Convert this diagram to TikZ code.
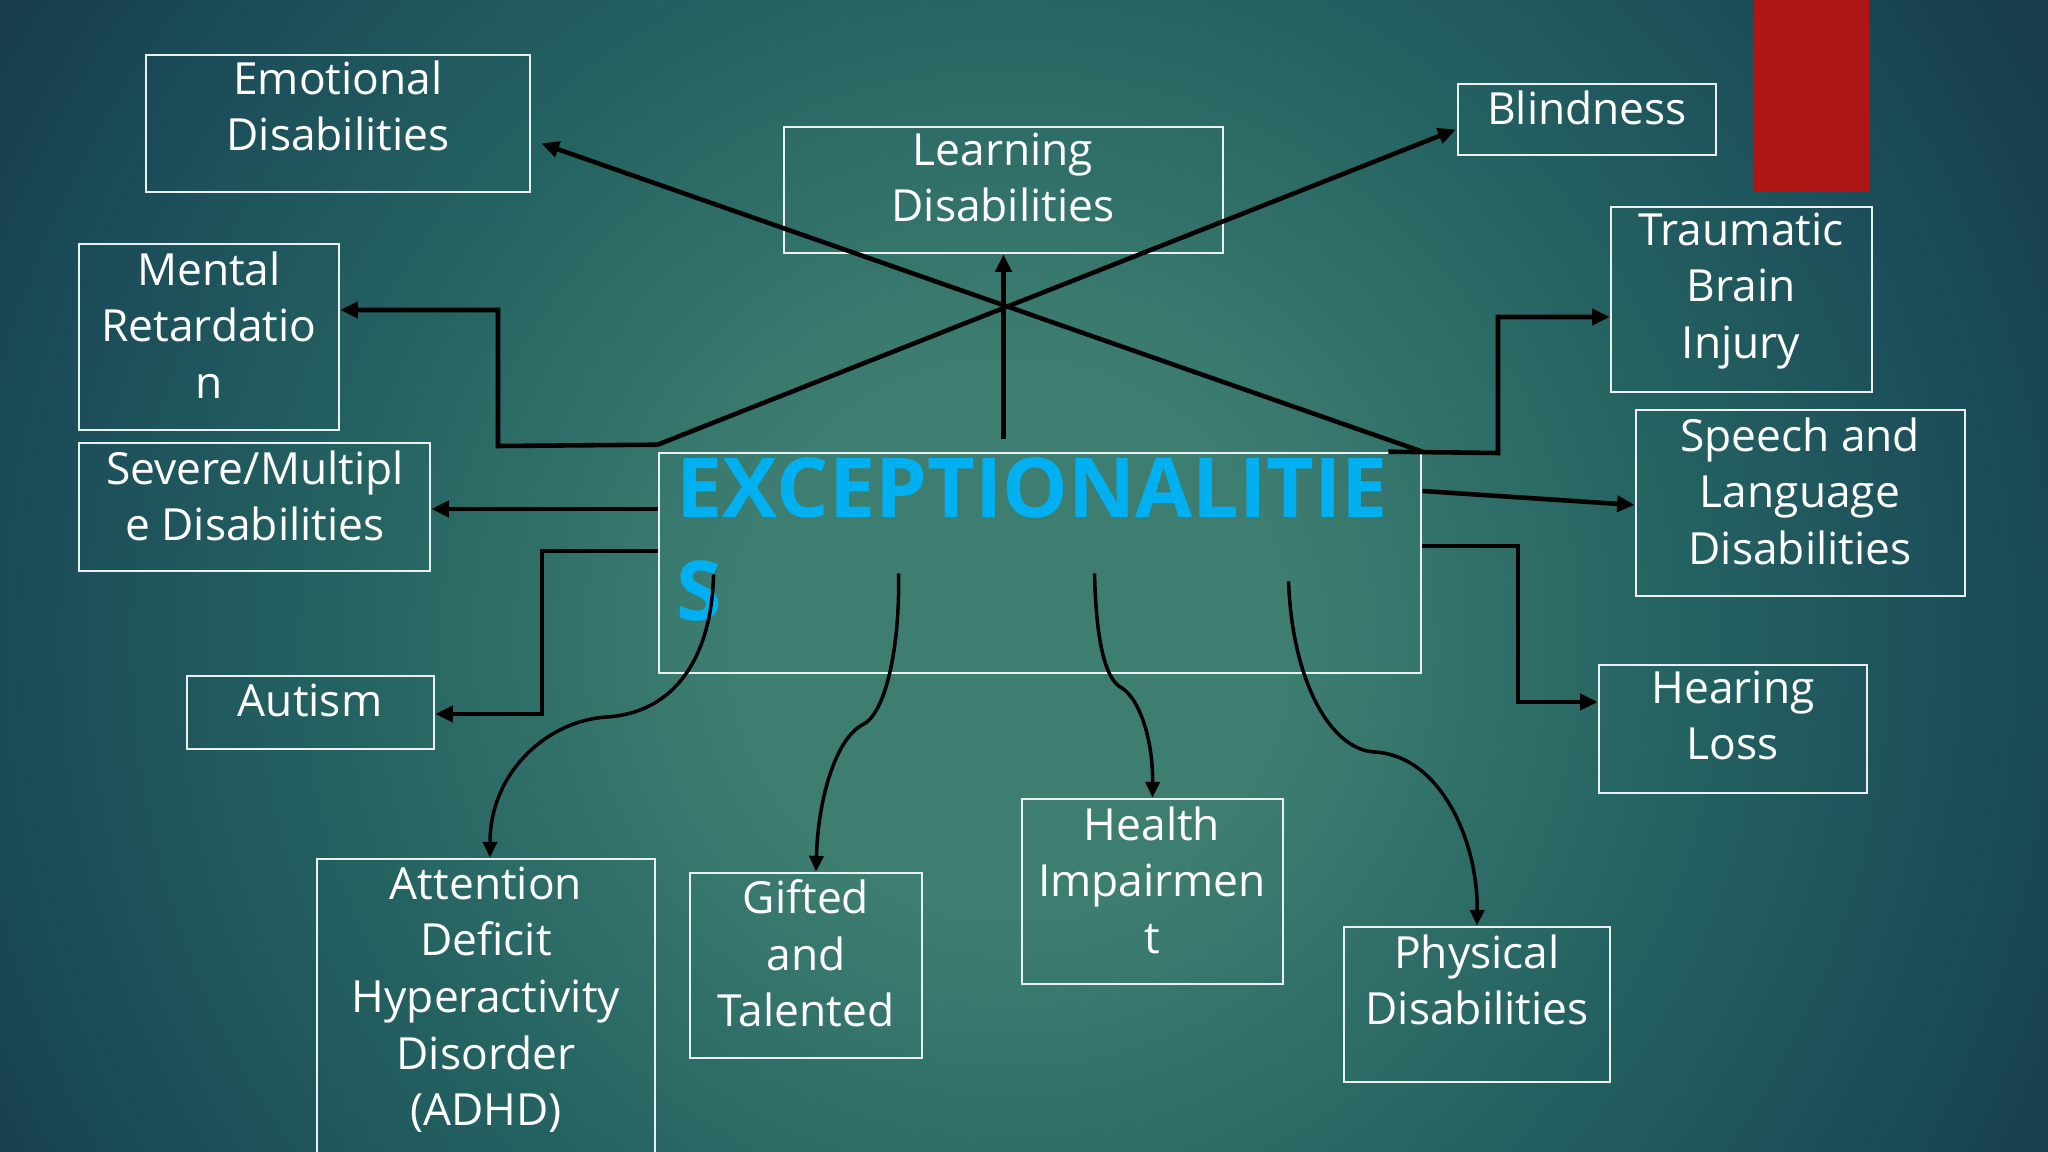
\documentclass[tikz,border=0pt]{standalone}
\usepackage{fontspec}
\setmainfont{Open Sans}
\usetikzlibrary{arrows.meta,calc}
\definecolor{bgC}{RGB}{62,126,113}
\definecolor{bgA}{RGB}{36,98,97}
\definecolor{bgB}{RGB}{26,73,88}
\definecolor{bgE}{RGB}{23,61,77}
\definecolor{titleblue}{RGB}{0,176,240}
\definecolor{boxline}{RGB}{232,240,240}
\definecolor{redbar}{RGB}{174,21,21}
\pgfdeclareradialshading{bgshade}{\pgfpoint{0bp}{0bp}}{color(0bp)=(bgC); color(5.5bp)=(bgC); color(13.5bp)=(bgA); color(20.5bp)=(bgB); color(23.5bp)=(bgE); color(50bp)=(bgE)}
\begin{document}
\begin{tikzpicture}[x=0.01cm,y=-0.01cm,
  box/.style={draw=boxline, line width=0.7pt, inner sep=0pt},
  txt/.style={text=white, font=\fontsize{12.6}{16.1}\selectfont, align=center, inner sep=0pt, anchor=north},
  ttl/.style={text=titleblue, font=\fontsize{23.5}{29}\selectfont\bfseries, inner sep=0pt, anchor=base west},
  conn/.style={draw=black, line width=1.3pt, -{Triangle[length=5pt,width=4.5pt]}},
  curv/.style={draw=black, line width=1pt, -{Triangle[length=4.5pt,width=4pt]}}]

\begin{scope}
\clip (0,0) rectangle (2048,1152);
\shade[shading=bgshade] (1010,640) circle (12.5cm);
\end{scope}
\useasboundingbox (0,0) rectangle (2048,1152);

\fill[redbar] (1754,0) rectangle (1869,192);

% boxes
\node[box, minimum width=3.84cm, minimum height=1.37cm] (emo) at (338,123.5) {};
\node[box, minimum width=4.39cm, minimum height=1.26cm] (learn) at (1003.5,190) {};
\node[box, minimum width=2.58cm, minimum height=0.71cm] (blind) at (1587,119.5) {};
\node[box, minimum width=2.61cm, minimum height=1.85cm] (tbi) at (1741.5,299.5) {};
\node[box, minimum width=3.29cm, minimum height=1.86cm] (speech) at (1800.5,503) {};
\node[box, minimum width=2.60cm, minimum height=1.86cm] (mental) at (209,337) {};
\node[box, minimum width=3.51cm, minimum height=1.28cm] (severe) at (254.5,507) {};
\node[box, minimum width=7.62cm, minimum height=2.20cm] (exc) at (1040,563) {};
\node[box, minimum width=2.47cm, minimum height=0.73cm] (autism) at (310.5,712.5) {};
\node[box, minimum width=2.68cm, minimum height=1.28cm] (hearing) at (1733,729) {};
\node[box, minimum width=3.38cm, minimum height=3.11cm] (adhd) at (486,1014.5) {};
\node[box, minimum width=2.32cm, minimum height=1.85cm] (gifted) at (806,965.5) {};
\node[box, minimum width=2.61cm, minimum height=1.85cm] (health) at (1152.5,891.5) {};
\node[box, minimum width=2.66cm, minimum height=1.55cm] (phys) at (1477,1004.5) {};

% texts
\node[txt] (emoT) at (338,60) {Emotional\\Disabilities};
\node[txt] (learnT) at (1003,132) {Learning\\Disabilities};
\node[txt] (blindT) at (1587,90) {Blindness};
\node[txt] (tbiT) at (1741,212) {Traumatic\\Brain\\Injury};
\node[txt] (speechT) at (1800,417) {Speech and\\Language\\Disabilities};
\node[txt] (mentalT) at (209,251) {Mental\\Retardatio\\n};
\node[txt] (severeT) at (255,450) {Severe/Multipl\\e Disabilities};
\node[txt] (autismT) at (310,683) {Autism};
\node[txt] (hearingT) at (1733,670) {Hearing\\Loss};
\node[txt] (adhdT) at (486,866) {Attention\\Deficit\\Hyperactivity\\Disorder\\(ADHD)};
\node[txt] (giftedT) at (806,879) {Gifted\\and\\Talented};
\node[txt] (healthT) at (1152,806) {Health\\Impairmen\\t};
\node[txt] (physT) at (1477,934) {Physical\\Disabilities};

\node[ttl] (excT1) at (676,518) {EXCEPTIONALITIE};
\node[ttl] (excT2) at (676,620) {S};

% straight connectors
\draw[conn] (exc.north east) -- ($(emo.east)+(10,20)$);
\draw[conn] ($(exc.north west)+(0,-7)$) -- ($(blind.west)+(-1,10)$);
\draw[conn] ($(exc.north west)+(0,-7)$) -- (498,446) |- (mental.east |- 0,310);
\draw[conn] (learn.south |- 0,439) -- (learn.south);
\draw[conn] (exc.west |- 0,509) -- (severe.east |- 0,509);
\draw[conn] (exc.west |- 0,551) -- (542,551) |- (autism.east |- 0,714);
\draw[conn] ($(exc.north east)+(-34,0)$) -- (1498,453) |- (tbi.west |- 0,317);
\draw[conn] (exc.east |- 0,491) -- (speech.west |- 0,505);
\draw[conn] (exc.east |- 0,546) -- (1518,546) |- (hearing.west |- 0,702);

% curved connectors
\draw[curv] ($(exc.south west)+(56,-100)$) .. controls (712,650) and (680,712) .. (607,717)
  .. controls (550,720) and (490,770) .. ($(adhd.north)+(4,0)$);
\draw[curv] ($(exc.south west)+(241,-101)$) .. controls (900,650) and (885,715) .. (862,725)
  .. controls (835,740) and (818,800) .. ($(gifted.north)+(10,0)$);
\draw[curv] ($(exc.south west)+(437,-101)$) .. controls (1096,640) and (1105,680) .. (1122,688)
  .. controls (1140,700) and (1153,740) .. (health.north);
\draw[curv] ($(exc.south west)+(631,-93)$) .. controls (1292,680) and (1330,750) .. (1375,752)
  .. controls (1440,756) and (1478,840) .. (phys.north);
\end{tikzpicture}
\end{document}
